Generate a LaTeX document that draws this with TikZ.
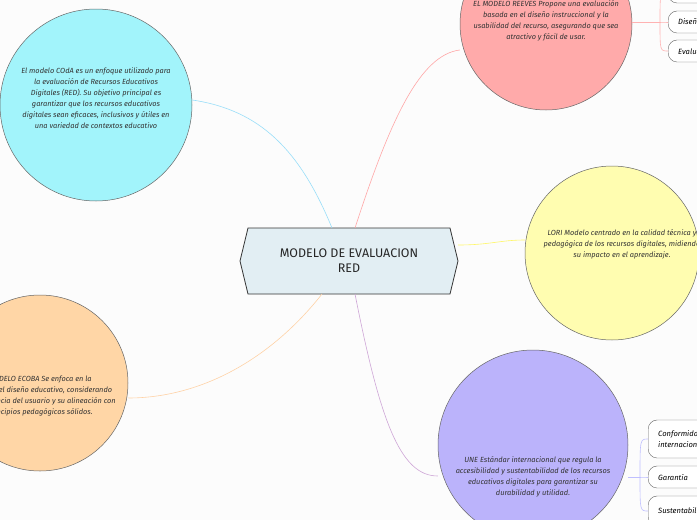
\documentclass[tikz,border=0pt]{standalone}
\usepackage{fontspec}
\setmainfont{Fira Sans}
\usetikzlibrary{shapes.geometric}
\definecolor{cyanF}{HTML}{A2F4FB}
\definecolor{pinkF}{HTML}{FFAAAA}
\definecolor{yelF}{HTML}{FFFDB0}
\definecolor{oraF}{HTML}{FFD6A6}
\definecolor{purF}{HTML}{BBB3FB}
\definecolor{hexF}{HTML}{E2EEF3}
\begin{document}
\begin{tikzpicture}[x=1pt,y=-1pt,
  bubble/.style={circle,draw=gray!80!black,line width=0.5pt},
  txt/.style={align=center,font=\itshape\fontsize{7.4}{11}\selectfont,text=black!80},
  leaf/.style={draw=gray!80!black,rounded corners=9pt,fill=white,minimum height=22pt,anchor=west,align=left,font=\itshape\fontsize{7.6}{11}\selectfont,inner xsep=10pt,text width=60pt},
  con/.style={line width=0.6pt}]
\path[use as bounding box,fill=white!98!gray] (0,0) rectangle (697,520);
\clip (0,0) rectangle (697,520);
% bubbles
\node[bubble,fill=cyanF,minimum size=192pt] (cy) at (96,105) {};
\node[bubble,fill=pinkF,minimum size=172pt] (pk) at (546,24) {};
\node[bubble,fill=yelF,minimum size=174pt] (ye) at (612,253) {};
\node[bubble,fill=oraF,minimum size=176pt] (or) at (40,383) {};
\node[bubble,fill=purF,minimum size=190pt] (pu) at (533,445) {};
% hexagon
\path[fill=hexF,draw=black!80,line width=0.8pt] (248,228) -- (450,228) -- (458,261) -- (450,294) -- (248,294) -- (240,261) -- cycle;
\node[font=\fontsize{12.5}{15}\selectfont,align=center,text=black!85] (ht) at (349,261) {MODELO DE EVALUACION\\RED};
% connectors
\coordinate (h1) at (332,228);
\coordinate (h2) at (355,228);
\coordinate (h3) at (458,245);
\coordinate (h4) at (322,294);
\coordinate (h5) at (355,294);
\draw[con,cyan!40] (h1) .. controls (300,150) and (260,110) .. (cy.east|-0,100);
\draw[con,red!35] (h2) .. controls (390,120) and (420,55) .. (pk.west|-0,50);
\draw[con,yellow!60] (h3) .. controls (490,245) and (500,240) .. (ye.west|-0,240);
\draw[con,orange!35] (h4) .. controls (270,360) and (200,398) .. (or.east|-0,398);
\draw[con,blue!40!purple!35] (h5) .. controls (380,420) and (400,476) .. (pu.west|-0,476);
% texts
\node[txt] at (96,98) {El modelo COdA es un enfoque utilizado para\\la evaluación de Recursos Educativos\\Digitales (RED). Su objetivo principal es\\garantizar que los recursos educativos\\digitales sean eficaces, inclusivos y útiles en\\una variedad de contextos educativo};
\node[txt] at (546,21) {EL MODELO REEVES Propone una evaluación\\basada en el diseño instruccional y la\\usabilidad del recurso, asegurando que sea\\atractivo y fácil de usar.};
\node[txt] at (622,244) {LORI Modelo centrado en la calidad técnica y\\pedagógica de los recursos digitales, midiendo\\su impacto en el aprendizaje.};
\node[txt] at (40,396) {MODELO ECOBA Se enfoca en la\\calidad del diseño educativo, considerando\\la experiencia del usuario y su alineación con\\principios pedagógicos sólidos.};
\node[txt] at (533,477) {UNE Estándar internacional que regula la\\accesibilidad y sustentabilidad de los recursos\\educativos digitales para garantizar su\\durabilidad y utilidad.};
% pink leaves
\node[leaf] (p1) at (668,-8) {Contenido};
\node[leaf] (p2) at (668,22) {Diseño};
\node[leaf] (p3) at (668,51) {Evaluación};
\coordinate (pj) at (660,22);
\draw[con,red!30] (pk.east|-0,22) -- (pj);
\foreach \n in {p1,p2,p3} \draw[con,red!30] (pj) .. controls (660,0|-\n.west) .. (\n.west);
% purple leaves
\node[leaf,minimum height=38pt] (u1) at (648,439) {Conformidad\\internacional};
\node[leaf] (u2) at (648,477) {Garantía};
\node[leaf,minimum height=30pt] (u3) at (648,511) {Sustentabilidad};
\coordinate (uj) at (640,477);
\draw[con,blue!25] (pu.east|-0,477) -- (uj);
\foreach \n in {u1,u2,u3} \draw[con,blue!25] (uj) .. controls (640,0|-\n.west) .. (\n.west);
\end{tikzpicture}
\end{document}
